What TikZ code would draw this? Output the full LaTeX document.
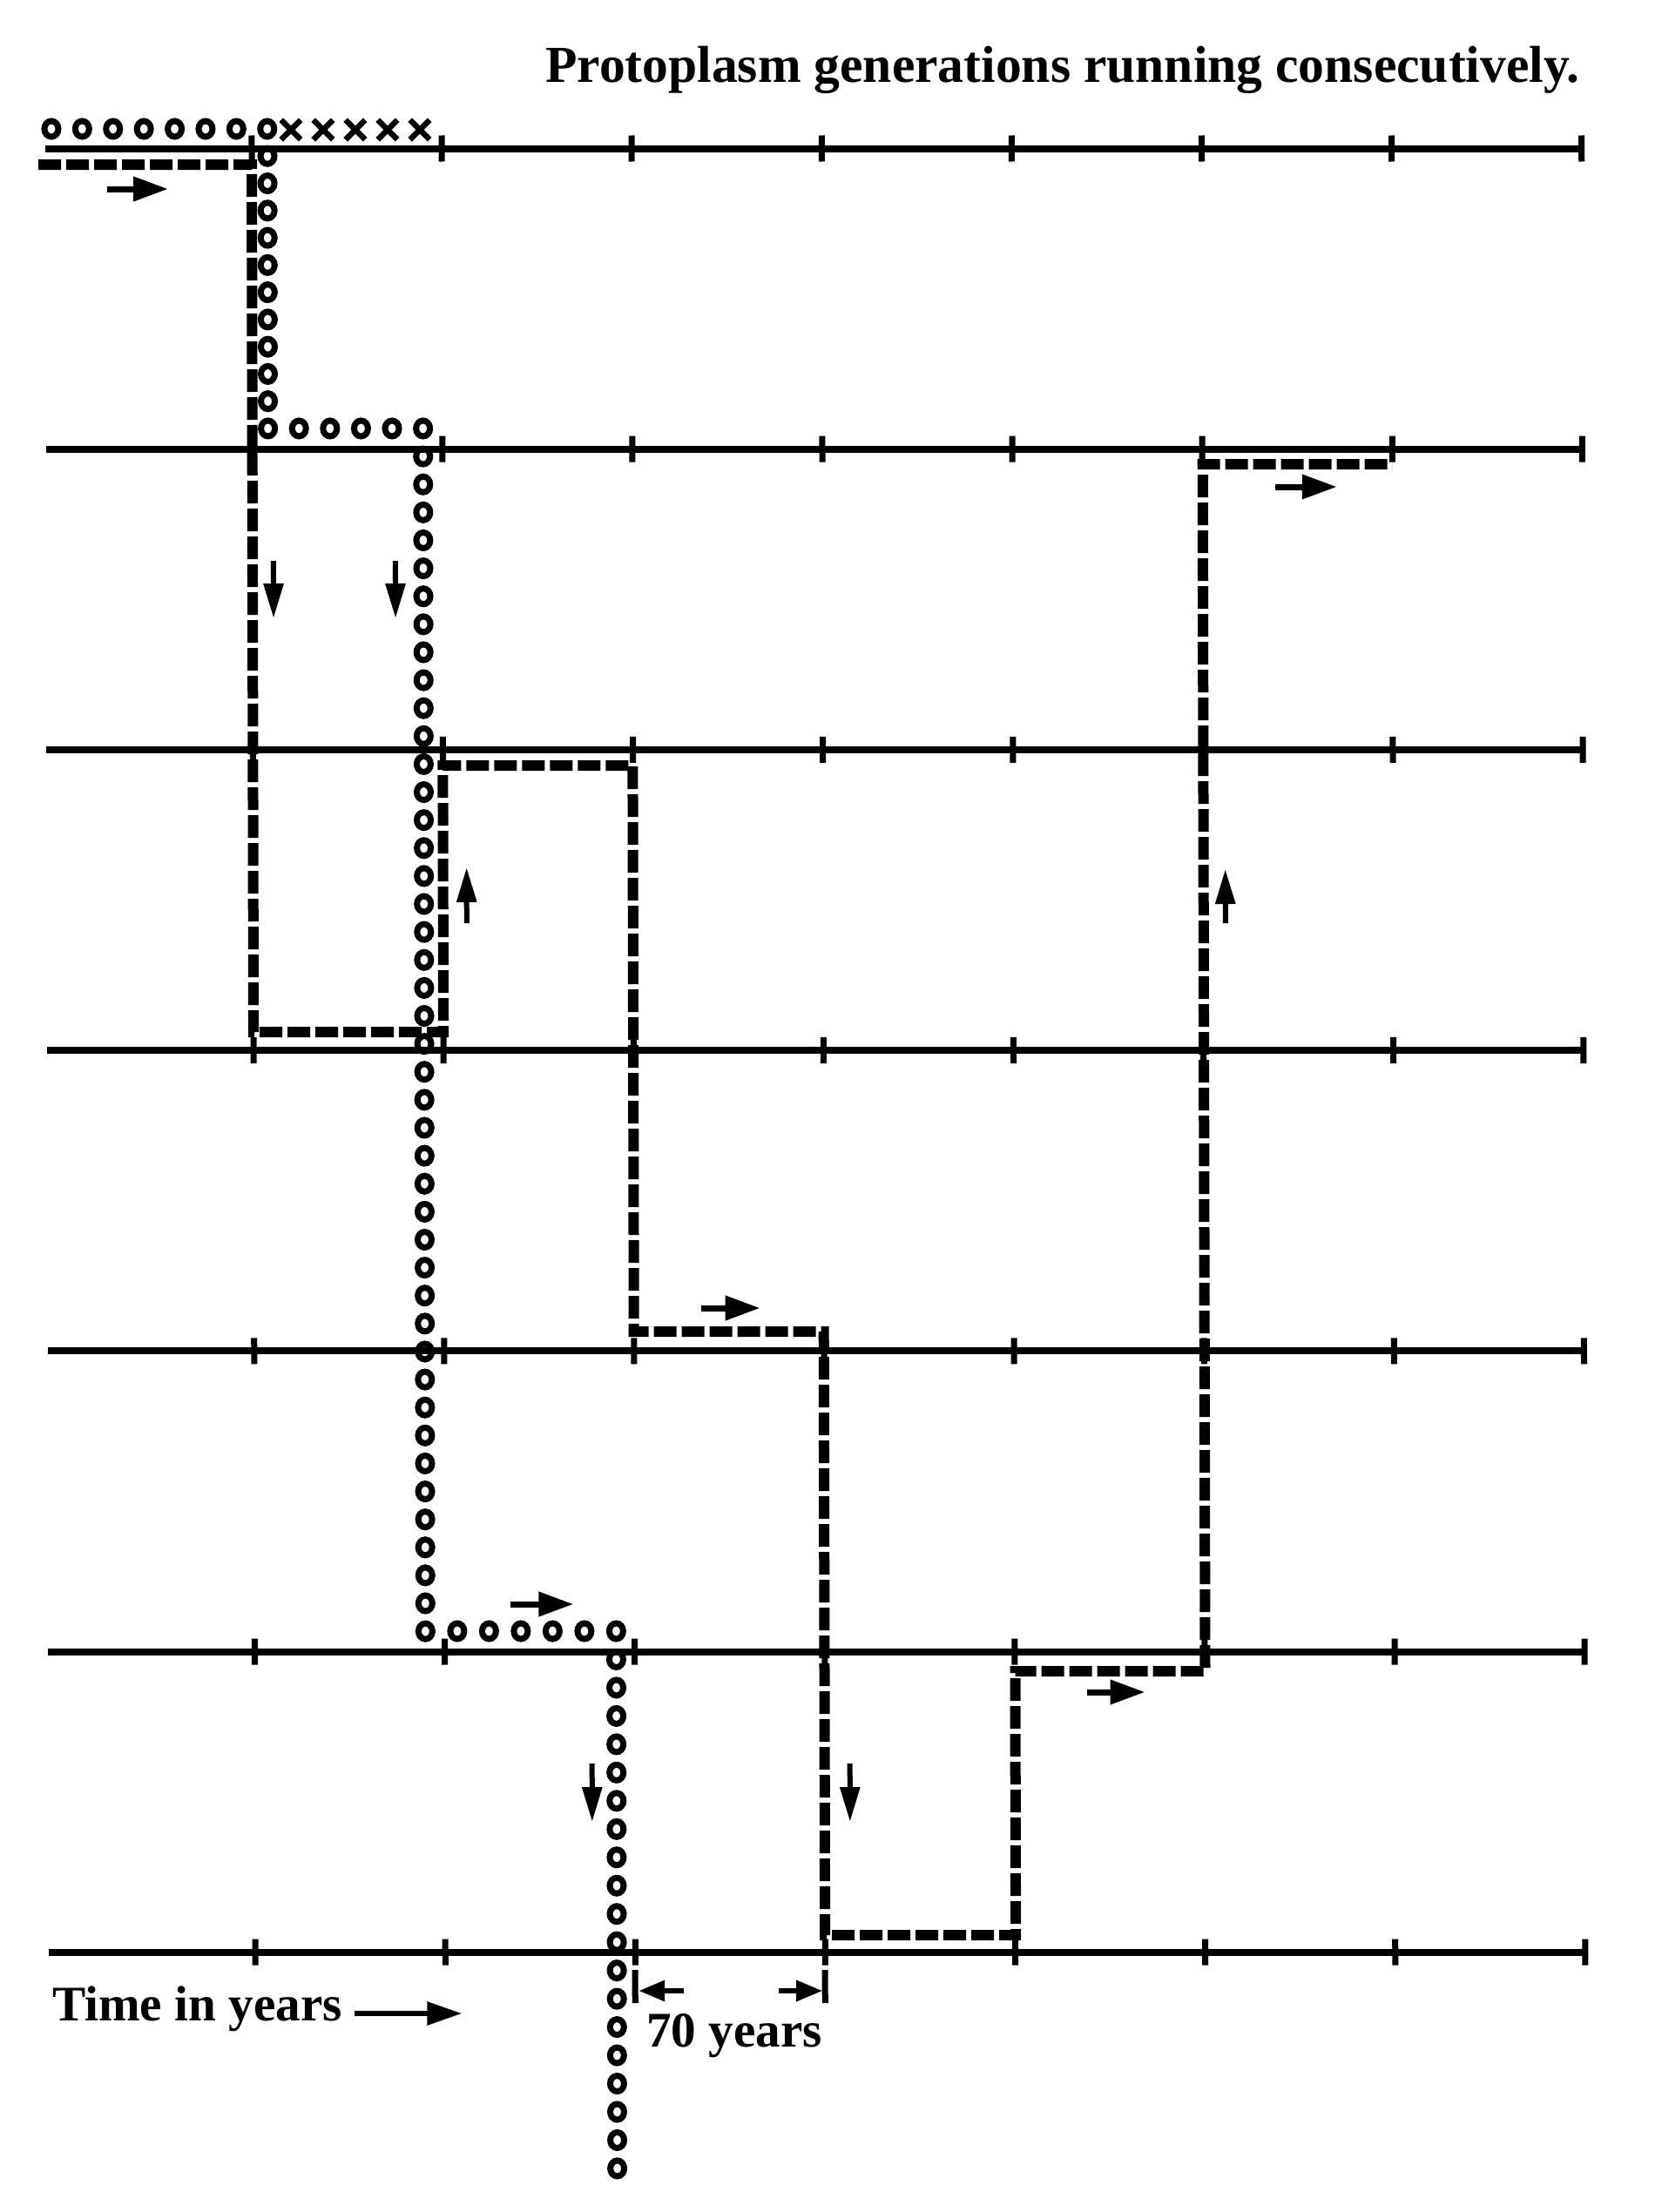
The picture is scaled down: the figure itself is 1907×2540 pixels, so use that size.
\documentclass[tikz,border=0pt]{standalone}
\usepackage{fontspec}
\setmainfont{Liberation Serif}
\usetikzlibrary{arrows.meta,shapes.geometric,shapes.misc}
\begin{document}
\begin{tikzpicture}[x=1pt,y=-1pt,
  axis/.style={line width=8pt},
  tickmark/.style={line width=7pt},
  germ/.style={line width=12pt, dash pattern=on 26pt off 6pt},
  ring/.style={draw, ellipse, line width=7pt, minimum width=16pt, minimum height=18pt, inner sep=0pt},
  xmark/.style={draw, cross out, line width=6.5pt, minimum width=16pt, minimum height=16pt, inner sep=0pt},
  hflow/.style={line width=7pt, -{Triangle[length=40pt,width=27pt]}},
  vflow/.style={line width=6pt, -{Triangle[length=40pt,width=22pt]}},
  timeflow/.style={line width=6pt, -{Triangle[length=40pt,width=26pt]}},
  dimflow/.style={line width=6pt, -{Triangle[length=30pt,width=23pt]}},
  title/.style={inner sep=0pt, font=\bfseries\fontsize{59.6}{66}\selectfont},
  label/.style={inner sep=0pt, font=\bfseries\fontsize{57.2}{64}\selectfont}
]
\path[use as bounding box, fill=white] (0,0) rectangle (1907,2540);

\begin{scope}[cm={1,0,-0.002,1,(-0.34pt,0pt)}]
% time axes with ticks
\foreach \j in {0,...,6} {
  \pgfmathsetmacro\yy{170.5+345.2*\j}
  \coordinate (L\j a) at (52,\yy);
  \coordinate (L\j b) at (1816,\yy);
  \draw[axis] (L\j a) -- (L\j b);
  \foreach \i in {0,...,7} {
    \pgfmathsetmacro\xx{289+218.1*\i}
    \coordinate (t\j-\i u) at (\xx,{\yy-15});
    \coordinate (t\j-\i d) at (\xx,{\yy+15});
    \draw[tickmark] (t\j-\i u) -- (t\j-\i d);
  }
}

% germ-plasm dashed path
\coordinate (g0) at (44,189);
\coordinate (g1) at (289,189);
\coordinate (g2) at (289,1185);
\coordinate (g3) at (507,1185);
\coordinate (g4) at (507,879);
\coordinate (g5) at (725,879);
\coordinate (g6) at (725,1529);
\coordinate (g7) at (943,1529);
\coordinate (g8) at (943,2222);
\coordinate (g9) at (1162,2222);
\coordinate (g10) at (1162,1919);
\coordinate (g11) at (1380,1919);
\coordinate (g12) at (1380,533);
\coordinate (g13) at (1598,533);
\draw[germ] (g0) -- (g1) -- (g2) -- (g3) -- (g4) -- (g5) -- (g6) -- (g7) -- (g8) -- (g9) -- (g10) -- (g11) -- (g12) -- (g13);

% protoplasm chain of circles
\foreach \k in {0,...,7} \node[ring] (r0-\k) at ({59+35.4*\k},148) {};
\foreach \k in {0,...,4} \node[xmark] (x-\k) at ({334+37*\k},149) {};
\foreach \k in {1,...,11} \node[ring] (v1-\k) at (307,{148+31.27*\k}) {};
\foreach \k in {1,...,5} \node[ring] (r1-\k) at ({307+35.6*\k},492) {};
\foreach \k in {1,...,43} \node[ring] (v2-\k) at (485,{492+32.12*\k}) {};
\foreach \k in {1,...,6} \node[ring] (r2-\k) at ({485+36.5*\k},1873) {};
\foreach \k in {1,...,19} \node[ring] (v3-\k) at (704,{1873+32.47*\k}) {};

% direction arrows
\coordinate (a1s) at (123,217);  \coordinate (a1e) at (193,217);
\coordinate (a6s) at (1463,559); \coordinate (a6e) at (1534,559);
\coordinate (a7s) at (802,1502); \coordinate (a7e) at (870,1502);
\coordinate (a8s) at (583,1842); \coordinate (a8e) at (655,1842);
\coordinate (a9s) at (1244,1943);\coordinate (a9e) at (1311,1943);
\foreach \n in {1,6,7,8,9} \draw[hflow] (a\n s) -- (a\n e);
\coordinate (a2s) at (313,644);  \coordinate (a2e) at (313,710);
\coordinate (a3s) at (453,644);  \coordinate (a3e) at (453,710);
\coordinate (a4s) at (534,1060); \coordinate (a4e) at (534,996);
\coordinate (a5s) at (1405,1060);\coordinate (a5e) at (1405,998);
\coordinate (a10s) at (676,2025);\coordinate (a10e) at (676,2092);
\coordinate (a11s) at (972,2025);\coordinate (a11e) at (972,2092);
\foreach \n in {2,3,4,5,10,11} \draw[vflow] (a\n s) -- (a\n e);

% time arrow
\coordinate (ts) at (403,2312); \coordinate (te) at (526,2312);
\draw[timeflow] (ts) -- (te);

% 70 years dimension
\coordinate (b1u) at (725,2262); \coordinate (b1d) at (725,2300);
\coordinate (b2u) at (943,2262); \coordinate (b2d) at (943,2300);
\draw[tickmark] (b1u) -- (b1d);
\draw[tickmark] (b2u) -- (b2d);
\coordinate (d1s) at (781,2286); \coordinate (d1e) at (729,2286);
\coordinate (d2s) at (890,2286); \coordinate (d2e) at (940,2286);
\draw[dimflow] (d1s) -- (d1e);
\draw[dimflow] (d2s) -- (d2e);
\end{scope}

% labels
\node[title, anchor=base east] (ttl) at (1814,95) {Protoplasm generations running consecutively.};
\node[label, anchor=base west] (tiy) at (60,2320) {Time in years};
\node[label, anchor=base west] (sev) at (742,2350) {70 years};
\end{tikzpicture}
\end{document}
